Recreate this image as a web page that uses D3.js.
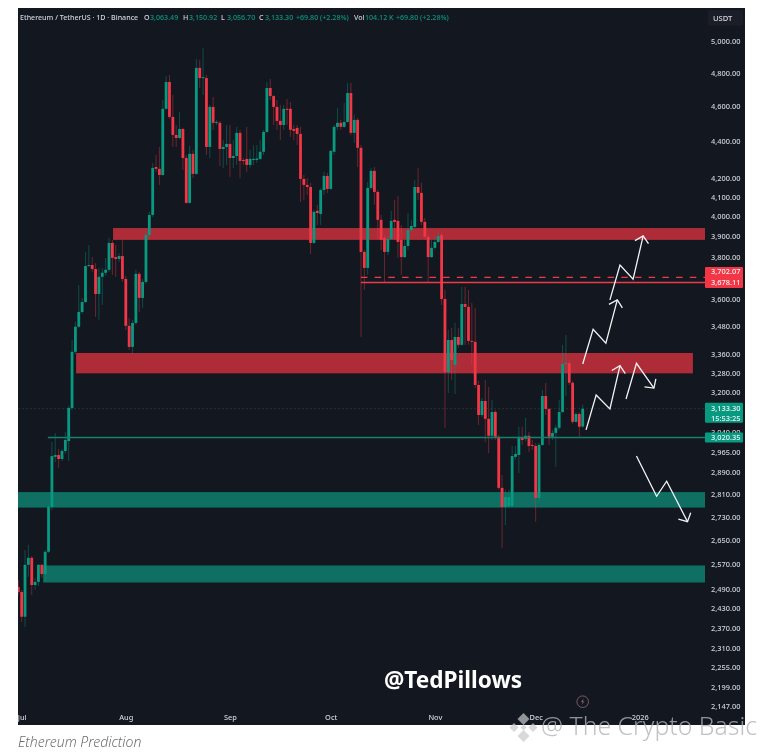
<!DOCTYPE html>
<html><head><meta charset="utf-8">
<script src="https://cdn.jsdelivr.net/npm/d3@7/dist/d3.min.js"></script>
<style>
html,body{margin:0;padding:0;background:#fff}
svg{display:block}
text{font-family:"Noto Sans",Roboto,sans-serif}
</style></head><body>
<svg id="c" width="764" height="753"></svg>
<script>
// ---------- data (ETH/USDT daily) ----------
const startDate = "2025-06-30";
const opens = [2498,2482,2405,2569,2592,2504,2514,2569,2539,2612,2765,2947,2954,2939,2969,3007,3136,3368,3477,3543,3588,3756,3761,3742,3625,3705,3724,3738,3868,3799,3790,3804,3695,3481,3389,3494,3719,3607,3681,3907,4008,4260,4250,4217,4587,4746,4540,4437,4420,4471,4309,4070,4332,4223,4832,4770,4770,4370,4598,4506,4506,4359,4370,4387,4309,4320,4449,4298,4304,4271,4298,4298,4304,4343,4454,4710,4662,4598,4517,4494,4587,4587,4471,4477,4443,4196,4164,4153,3868,4029,4013,4137,4212,4143,4343,4483,4506,4483,4511,4680,4449,4523,4365,3824,3747,4148,4239,4127,3983,3893,3824,3888,3983,3978,3883,3799,3853,3932,3947,4153,4122,3973,3898,3799,3844,3873,3907,3602,3283,3419,3312,3432,3398,3579,3566,3415,3411,3229,3108,3164,3093,3027,3120,3023,2833,2765,2768,2768,2947,2954,3019,3015,3027,2992,2988,2797,2992,3184,3132,3023,3038,3058,3120,3316,3320,3238,3081,3112,3063];
const closes = [2482,2405,2569,2592,2504,2514,2569,2539,2612,2765,2950,2954,2939,2969,3011,3136,3368,3477,3543,3588,3756,3761,3742,3625,3705,3724,3738,3868,3795,3790,3804,3695,3481,3389,3494,3719,3607,3681,3907,4008,4255,4250,4217,4587,4746,4540,4437,4420,4471,4309,4070,4332,4223,4832,4770,4776,4370,4598,4506,4511,4359,4370,4387,4309,4320,4449,4293,4293,4271,4304,4304,4306,4343,4454,4710,4662,4598,4517,4494,4587,4581,4466,4460,4443,4196,4164,4153,3868,4024,4018,4137,4212,4143,4348,4483,4506,4483,4511,4680,4449,4523,4365,3824,3747,4148,4239,4127,3983,3883,3824,3888,3978,3973,3873,3799,3853,3932,3952,4153,4122,3973,3898,3799,3844,3873,3902,3602,3283,3419,3333,3432,3398,3579,3566,3415,3411,3229,3108,3164,3093,3027,3120,3023,2833,2765,2800,2800,2950,2958,3023,3011,3027,2988,2988,2797,2992,3184,3132,3023,3038,3058,3120,3316,3320,3238,3081,3112,3062,3133];
const highs = [2520,2488,2618,2635,2598,2527,2572,2572,2618,2772,3003,3038,2977,2977,3042,3144,3419,3499,3667,3607,3824,3858,3799,3770,3747,3747,3795,3893,3883,3858,3819,3883,3709,3516,3508,3738,3728,3695,3927,4024,4282,4326,4370,4639,4782,4789,4668,4494,4569,4477,4326,4376,4354,4887,4881,4956,4789,4610,4657,4523,4517,4409,4494,4494,4409,4483,4466,4309,4483,4354,4381,4381,4409,4466,4746,4764,4668,4639,4610,4610,4645,4627,4494,4494,4483,4217,4201,4175,4034,4060,4148,4234,4228,4354,4494,4592,4523,4621,4740,4740,4552,4535,4381,3834,4180,4255,4260,4137,4008,3907,3902,4029,4085,4106,3957,3883,4018,3983,4190,4255,4175,3993,3907,3883,3898,3922,3917,3644,3463,3472,3494,3472,3658,3658,3644,3584,3561,3246,3176,3250,3221,3168,3128,3031,2880,2826,2826,2988,2988,3062,3062,3097,3042,3011,2999,2999,3209,3238,3136,3050,3069,3168,3398,3441,3329,3246,3120,3120,3150];
const lows = [2473,2389,2374,2530,2473,2488,2501,2527,2517,2608,2754,2928,2906,2932,2958,2932,3128,3359,3472,3534,3584,3751,3728,3521,3508,3575,3709,3728,3714,3705,3775,3681,3463,3376,3359,3485,3543,3561,3672,3893,3998,4234,4164,4212,4581,4529,4370,4370,4415,4244,4065,4065,4201,4217,4710,4668,4326,4309,4466,4494,4266,4255,4271,4207,4255,4271,4201,4271,4234,4255,4271,4282,4298,4326,4449,4639,4494,4466,4409,4466,4494,4426,4409,4381,4075,4085,4111,3814,3863,3957,3957,4111,4122,4137,4326,4466,4466,4477,4506,4437,4393,4260,3432,3644,3714,4137,4060,3883,3834,3677,3809,3883,3883,3795,3714,3795,3834,3922,3942,4085,3957,3883,3681,3795,3834,3868,3575,3058,3196,3250,3192,3385,3393,3398,3398,3312,3217,3069,3100,3003,2961,3011,3011,2826,2625,2702,2761,2765,2936,2887,2992,3007,2965,2973,2713,2779,2988,3108,2992,3011,2910,3050,3116,3184,3229,3073,3077,3023,3057];

const priceTicks = [5000,4800,4600,4400,4200,4100,4000,3900,3800,3600,3480,3360,3280,3200,3040,2965,2890,2810,2730,2650,2570,2490,2430,2370,2310,2255,2199,2147];
const monthDates = ["2025-07-01","2025-08-01","2025-09-01","2025-10-01","2025-11-01","2025-12-01","2026-01-01"];
const monthLabels = ["Jul","Aug","Sep","Oct","Nov","Dec","2026"];

// zones: price bands, start day offset, end day offset (null = to the axis)
const zoneHigh  = [3942,3363,2818,2567];
const zoneLow   = [3883,3277,2763,2512];
const zoneStart = [28.2,17.2,-2,7.4];
const zoneEnd   = [null,200.8,null,null];
const zoneKind  = ["r","r","g","g"];

const levelPrice = [3702.07,3678.11,3020.35,3133.30];
const levelStart = [102,102,8.8,-2];

// drawn arrows: [day offset, price]
const arrowA = [[168,3316],[171.1,3466],[174.9,3405],[178.3,3598]];
const arrowB = [[176.1,3598],[179.1,3761],[183,3694],[186,3903]];
const arrowC = [[169,3050],[172,3188],[176.1,3132],[179.1,3309]];
const arrowD = [[180.9,3172],[184,3319],[189.2,3216]];
const arrowE = [[184,2950],[190,2803],[193,2857],[199.2,2714]];
const arrows = [arrowA,arrowB,arrowC,arrowD,arrowE];

const headerName = "Ethereum / TetherUS · 1D · Binance";
const ohlcKeys = ["O","H","L","C"];
const ohlcVals = ["3,063.49","3,150.92","3,056.70","3,133.30"];
const changeTxt = "+69.80 (+2.28%)";
const volTxt = "104.12 K";

// ---------- layout ----------
const W=764,H=753;
const panel={l:18,t:8,r:745,b:725}, plotR=705;
const C={bg:"#131820",up:"#089981",dn:"#f23645",zr:"#ad2c38",zg:"#0e6f62",axis:"#d1d4dc",lineG:"#15806f",lineR:"#ee3a4b"};

const t0=Date.parse(startDate+"T00:00:00Z"), DAY=864e5;
const x=d3.scaleUtc().domain([new Date(t0),new Date(t0+168*DAY)]).range([18.3,582.7]);
const dx=d=>x(new Date(t0+d*DAY));
const y=d3.scaleLog().domain([5000,2147]).range([41,706]);

const svg=d3.select("#c");
const defs=svg.append("defs");
defs.append("clipPath").attr("id","plot").append("rect").attr("x",panel.l).attr("y",panel.t).attr("width",plotR-panel.l).attr("height",panel.b-panel.t);
defs.append("filter").attr("id","soft").attr("x","-2%").attr("y","-2%").attr("width","104%").attr("height","104%")
  .attr("color-interpolation-filters","sRGB")
  .append("feGaussianBlur").attr("stdDeviation",0.35);

const root=svg.append("g").attr("filter","url(#soft)");
root.append("rect").attr("x",panel.l).attr("y",panel.t).attr("width",panel.r-panel.l).attr("height",panel.b-panel.t).attr("fill",C.bg);

const plot=root.append("g").attr("clip-path","url(#plot)");

// zones
plot.selectAll("rect.zone").data(zoneHigh).join("rect").attr("class","zone")
  .attr("x",(d,i)=>dx(zoneStart[i]))
  .attr("width",(d,i)=>(zoneEnd[i]===null?plotR:dx(zoneEnd[i]))-dx(zoneStart[i]))
  .attr("y",d=>y(d))
  .attr("height",(d,i)=>y(zoneLow[i])-y(d))
  .attr("fill",(d,i)=>zoneKind[i]==="r"?C.zr:C.zg);

// faint last-price line
plot.append("line").attr("x1",panel.l).attr("x2",plotR).attr("y1",y(levelPrice[3])).attr("y2",y(levelPrice[3]))
  .attr("stroke","#24383b").attr("stroke-width",0.8).attr("stroke-dasharray","2 2");

// candles
const days=d3.range(opens.length);
const col=i=>closes[i]>=opens[i]?C.up:C.dn;
plot.selectAll("line.wick").data(days).join("line").attr("class","wick")
  .attr("x1",i=>dx(i)).attr("x2",i=>dx(i))
  .attr("y1",i=>y(highs[i])).attr("y2",i=>y(lows[i]))
  .attr("stroke",col).attr("stroke-width",0.8).attr("stroke-opacity",0.5);
plot.selectAll("rect.body").data(days).join("rect").attr("class","body")
  .attr("x",i=>dx(i)-1.4).attr("width",2.8)
  .attr("y",i=>y(Math.max(opens[i],closes[i])))
  .attr("height",i=>Math.max(1,y(Math.min(opens[i],closes[i]))-y(Math.max(opens[i],closes[i]))))
  .attr("fill",col);

// horizontal levels
plot.append("line").attr("x1",dx(levelStart[0])).attr("x2",plotR).attr("y1",y(levelPrice[0])).attr("y2",y(levelPrice[0]))
  .attr("stroke",C.lineR).attr("stroke-width",1.4).attr("stroke-dasharray","6.5 7.2");
plot.append("line").attr("x1",dx(levelStart[1])).attr("x2",plotR).attr("y1",y(levelPrice[1])).attr("y2",y(levelPrice[1]))
  .attr("stroke",C.lineR).attr("stroke-width",1.4);
plot.append("line").attr("x1",dx(levelStart[2])).attr("x2",plotR).attr("y1",y(levelPrice[2])).attr("y2",y(levelPrice[2]))
  .attr("stroke",C.lineG).attr("stroke-width",1.5);

// arrows
const lineGen=d3.line().x(p=>dx(p[0])).y(p=>y(p[1]));
const gA=root.append("g").attr("fill","none").attr("stroke","#f2f3f5").attr("stroke-width",1.3).attr("stroke-linejoin","miter");
arrows.forEach(a=>{
  gA.append("path").attr("d",lineGen(a));
  const n=a.length, tx=dx(a[n-1][0]), ty=y(a[n-1][1]), px=dx(a[n-2][0]), py=y(a[n-2][1]);
  const ang=Math.atan2(py-ty,px-tx), L=9.5, s=47*Math.PI/180;
  gA.append("path").attr("d",d3.line()([
    [tx+L*Math.cos(ang+s),ty+L*Math.sin(ang+s)],[tx,ty],[tx+L*Math.cos(ang-s),ty+L*Math.sin(ang-s)]]));
});

// header
const head=root.append("g").attr("font-size",7.1).attr("font-weight",500);
head.append("text").attr("x",20).attr("y",19.5).attr("fill",C.axis).text(headerName);
const headKeyX=[144,183,221,259];
ohlcKeys.forEach((k,i)=>{
  head.append("text").attr("x",headKeyX[i]).attr("y",19.5).attr("fill",C.axis).text(k);
  head.append("text").attr("x",headKeyX[i]+6).attr("y",19.5).attr("fill",C.up).text(ohlcVals[i]);
});
head.append("text").attr("x",296).attr("y",19.5).attr("fill",C.up).text(changeTxt);
head.append("text").attr("x",354).attr("y",19.5).attr("fill",C.axis).text("Vol");
head.append("text").attr("x",365).attr("y",19.5).attr("fill",C.up).text(volTxt);
head.append("text").attr("x",396).attr("y",19.5).attr("fill",C.up).text(changeTxt);

// price axis
const yAxis=d3.axisRight(y).tickValues(priceTicks).tickFormat(d3.format(",.2f")).tickSize(0).tickPadding(0);
const gy=root.append("g").attr("transform","translate(711,0)").call(yAxis);
gy.select(".domain").remove();
gy.selectAll("text").attr("fill",C.axis).attr("font-size",7.4).attr("font-weight",500).attr("font-family",'"Noto Sans",sans-serif');

// USDT box
root.append("rect").attr("x",708).attr("y",10).attr("width",35).attr("height",15.5).attr("rx",2).attr("fill","#1b1e28");
root.append("text").attr("x",713).attr("y",20.5).attr("fill",C.axis).attr("font-size",7.6).attr("font-weight",500).text("USDT");

// price tags
function tag(top,bot,color,lines){
  root.append("rect").attr("x",705).attr("y",top).attr("width",38).attr("height",bot-top).attr("rx",1).attr("fill",color);
  lines.forEach(l=>root.append("text").attr("x",711).attr("y",l[1]).attr("fill","#f0f3f7").attr("font-size",7.4).attr("font-weight",500).text(l[0]));
}
const fmt2=d3.format(",.2f");
tag(y(levelPrice[0])-10.5,y(levelPrice[1])+5.5,C.dn,[[fmt2(levelPrice[0]),y(levelPrice[0])-3],[fmt2(levelPrice[1]),y(levelPrice[1])+2.8]]);
tag(y(levelPrice[3])-6,y(levelPrice[3])+14,C.up,[[fmt2(levelPrice[3]),y(levelPrice[3])+2.6],["15:53:25",y(levelPrice[3])+12]]);
tag(y(levelPrice[2])-5,y(levelPrice[2])+5,C.up,[[fmt2(levelPrice[2]),y(levelPrice[2])+2.6]]);

// time axis
const xAxis=d3.axisBottom(x).tickValues(monthDates.map(d=>new Date(d+"T00:00:00Z"))).tickFormat((d,i)=>monthLabels[i]).tickSize(0).tickPadding(0);
const gx=root.append("g").attr("transform","translate(0,714.5)").call(xAxis);
gx.select(".domain").remove();
gx.selectAll("text").attr("fill",C.axis).attr("font-size",7.4).attr("font-weight",500).attr("font-family",'"Noto Sans",sans-serif');

// author text
root.append("text").attr("x",384).attr("y",688).attr("fill","#fff").attr("font-family","Roboto,sans-serif").attr("font-weight",700).attr("font-size",22.6).text("@TedPillows");

// bolt icon
const bolt=root.append("g").attr("transform","translate(582.7,701.7)");
bolt.append("circle").attr("r",5.8).attr("fill","none").attr("stroke","#7d5a60").attr("stroke-width",1);
bolt.append("path").attr("d","M1,-3.4L-1.8,0.4H-0.2L-1,3.4L1.8,-0.4H0.2Z").attr("fill","#7d5a60");

// watermark
const wm=svg.append("g");
const diamonds=[[523.5,719,6],[514,727.5,4.5],[533,727.5,4.5],[523.5,727.5,3],[523.5,736,6]];
wm.selectAll("path").data(diamonds).join("path")
  .attr("d",d=>`M${d[0]},${d[1]-d[2]}L${d[0]+d[2]},${d[1]}L${d[0]},${d[1]+d[2]}L${d[0]-d[2]},${d[1]}Z`)
  .attr("fill","#c9c9cb").attr("fill-opacity",0.7);
wm.append("text").attr("x",541).attr("y",735).attr("fill","#b2b2b6").attr("fill-opacity",0.8)
  .attr("font-family","Inter,sans-serif").attr("font-weight",300).attr("font-size",24.8).text("@ The Crypto Basic");

// caption
svg.append("text").attr("x",18).attr("y",746.5).attr("fill","#6e6e73").attr("font-family","Lato,sans-serif").attr("font-style","italic").attr("font-weight",300).attr("font-size",14).text("Ethereum Prediction");
</script>
</body></html>
